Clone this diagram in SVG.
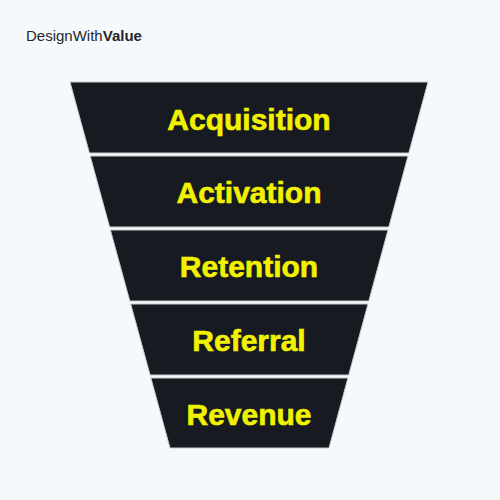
<svg xmlns="http://www.w3.org/2000/svg" width="500" height="500" viewBox="0 0 500 500">
<style>
.seg{fill:#181a22;stroke:#c8cacf;stroke-width:1}
.lbl{font-family:"Liberation Sans",Arial,sans-serif;font-weight:bold;font-size:30px;fill:#f2f200;stroke:#f2f200;stroke-width:0.6;text-anchor:middle}
.hdr{font-family:"Liberation Sans",Arial,sans-serif;font-size:15px;fill:#23252b}
</style>
<rect width="500" height="500" fill="#f6f9fc"/>
<text class="hdr" x="26" y="41">DesignWith<tspan font-weight="bold">Value</tspan></text>
<g id="acquisition">
<polygon class="seg" points="70,82 428,82 408.8,153 89.4,153"/>
<text class="lbl" x="249" y="129.5">Acquisition</text>
</g>
<g id="activation">
<polygon class="seg" points="90.2,156 408,156 388.8,227 109.6,227"/>
<text class="lbl" x="249" y="203">Activation</text>
</g>
<g id="retention">
<polygon class="seg" points="110.4,230 388,230 368.8,301 129.8,301"/>
<text class="lbl" x="249" y="277">Retention</text>
</g>
<g id="referral">
<polygon class="seg" points="130.7,304 368,304 348.7,375 150.1,375"/>
<text class="lbl" x="249" y="351">Referral</text>
</g>
<g id="revenue">
<polygon class="seg" points="150.9,378 347.9,378 329,448 170,448"/>
<text class="lbl" x="249" y="425">Revenue</text>
</g>
<g id="connectors"/>
</svg>
